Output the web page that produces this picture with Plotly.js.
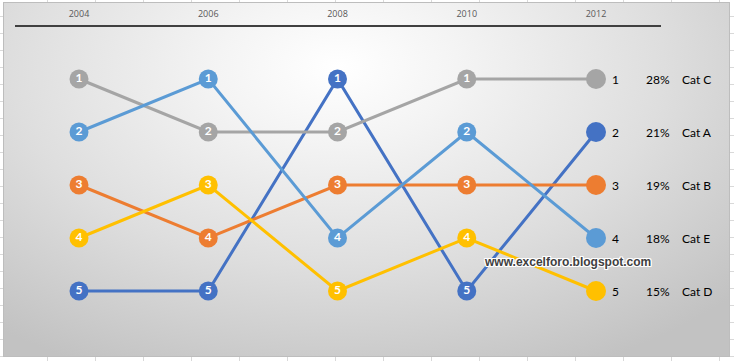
<!DOCTYPE html>
<html>
<head>
<meta charset="utf-8">
<script src="https://cdn.plot.ly/plotly-3.0.1.min.js"></script>
<style>
  html, body { margin: 0; padding: 0; }
  body {
    width: 734px; height: 361px; overflow: hidden; position: relative;
    background-color: #ffffff;
    background-image:
      repeating-linear-gradient(to right, transparent 0, transparent 47px, #d9d9d9 47px, #d9d9d9 48px),
      repeating-linear-gradient(to bottom, transparent 0, transparent 16px, #d9d9d9 16px, #d9d9d9 17px);
  }
  #bg {
    position: absolute; left: 3px; top: 2px; width: 725px; height: 353px;
    border: 1px solid #bdbdbd;
    background: radial-gradient(ellipse 75% 95% at 46% 18%, #ffffff 0%, #f4f4f4 22%, #dedede 60%, #c2c2c2 100%);
  }
  #chart { position: absolute; left: 0; top: 0; width: 734px; height: 361px; }
</style>
</head>
<body>
<div id="bg"></div>
<div id="chart"></div>
<script>
const years = [2004, 2006, 2008, 2010, 2012];
const categories = ["Cat A", "Cat B", "Cat C", "Cat D", "Cat E"];
const rankA = [5, 5, 1, 5, 2];
const rankB = [3, 4, 3, 3, 3];
const rankC = [1, 2, 2, 1, 1];
const rankD = [4, 3, 5, 4, 5];
const rankE = [2, 1, 4, 2, 4];
const share2012 = ["21%", "19%", "28%", "15%", "18%"];
const colors = ["#4472C4", "#ED7D31", "#A5A5A5", "#FFC000", "#5B9BD5"];
const ranks = [rankA, rankB, rankC, rankD, rankE];

const traces = ranks.map((r, i) => ({
  type: "scatter",
  mode: "lines+markers+text",
  x: years,
  y: r,
  text: r.map((v, j) => j < r.length - 1 ? String(v) : ""),
  textposition: "middle center",
  textfont: { family: "Lato, 'Open Sans', sans-serif", size: 12, color: "#ffffff", weight: 700 },
  line: { color: colors[i], width: 3 },
  marker: { color: colors[i], opacity: 1, size: r.map((v, j) => j < r.length - 1 ? 19 : 20), line: { width: 0 } },
  cliponaxis: false,
  hoverinfo: "skip",
  showlegend: false
}));

const labelFont = { family: "Lato, 'Open Sans', sans-serif", size: 12, color: "#000000" };
const annotations = [];
ranks.forEach((r, i) => {
  const last = r[r.length - 1];
  const xLast = years[years.length - 1];
  annotations.push({ x: xLast, y: last, xref: "x", yref: "y", text: String(last), showarrow: false, xanchor: "left", xshift: 14, font: labelFont });
  annotations.push({ x: xLast, y: last, xref: "x", yref: "y", text: share2012[i], showarrow: false, xanchor: "left", xshift: 48, font: labelFont });
  annotations.push({ x: xLast, y: last, xref: "x", yref: "y", text: categories[i], showarrow: false, xanchor: "left", xshift: 84, font: labelFont });
});
annotations.push({
  x: 0.856, y: 0.296, xref: "paper", yref: "paper", xanchor: "center", yanchor: "middle", showarrow: false,
  text: "www.excelforo.blogspot.com",
  font: { family: "'Liberation Sans', Arial, sans-serif", size: 12, color: "#404040", weight: 700,
          shadow: "1px 0 0 #fff, -1px 0 0 #fff, 0 1px 0 #fff, 0 -1px 0 #fff, 1px 1px 0 #fff, -1px -1px 0 #fff, 1px -1px 0 #fff, -1px 1px 0 #fff" }
});

const layout = {
  width: 734, height: 361,
  margin: { l: 15, r: 73, t: 27, b: 0, pad: 0 },
  paper_bgcolor: "rgba(0,0,0,0)",
  plot_bgcolor: "rgba(0,0,0,0)",
  xaxis: {
    side: "top",
    range: [2003.0097, 2013.0058],
    tickvals: years,
    ticktext: years.map(String),
    tickfont: { family: "'Open Sans', 'Liberation Sans', sans-serif", size: 9, color: "#595959" },
    ticks: "outside", ticklen: 4, tickcolor: "rgba(0,0,0,0)",
    showline: true, linecolor: "#404040", linewidth: 2,
    showgrid: false, zeroline: false, fixedrange: true
  },
  yaxis: {
    range: [6.3208, 0.0189],
    visible: false, showgrid: false, zeroline: false, fixedrange: true
  },
  annotations: annotations,
  hovermode: false
};

Plotly.newPlot("chart", traces, layout, { displayModeBar: false, staticPlot: true });
</script>
</body>
</html>
